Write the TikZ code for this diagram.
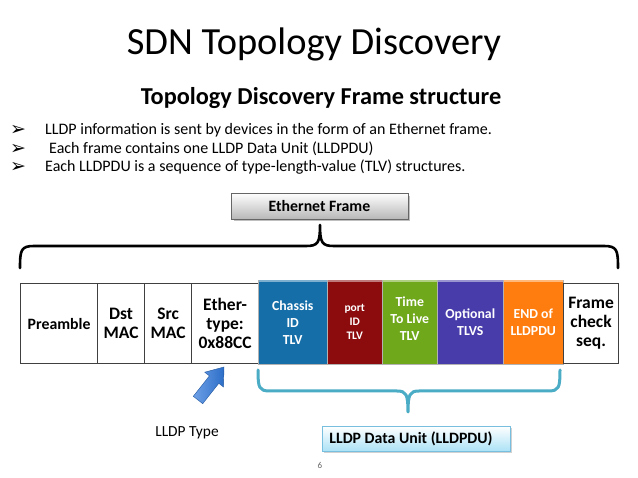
\documentclass[tikz,border=0pt]{standalone}
\usepackage{fontspec}
\setmainfont{Carlito}
\newfontfamily\dejavu{DejaVu Sans}
\definecolor{chassisblue}{RGB}{22,110,168}
\definecolor{portred}{RGB}{140,12,14}
\definecolor{ttlgreen}{RGB}{112,168,28}
\definecolor{optpurple}{RGB}{72,60,170}
\definecolor{endorange}{RGB}{255,125,14}
\definecolor{bracecyan}{RGB}{75,172,198}
\definecolor{pdufill}{RGB}{172,226,246}
\definecolor{pduline}{RGB}{120,190,222}
\definecolor{arrowblue}{RGB}{44,110,200}
\definecolor{arrowlight}{RGB}{110,160,230}
\begin{document}
\begin{tikzpicture}[x=1pt,y=-1pt,
  cell/.style={draw=black!75, line width=1.2pt, fill=white, inner sep=0pt, anchor=north west,
    align=center, minimum height=80pt, font=\bfseries\fontsize{17.5}{19}\selectfont},
  tlv/.style={draw=black!30, line width=0.5pt, inner sep=0pt, anchor=north west, align=center,
    minimum height=84pt, text=white, font=\bfseries\fontsize{13.8}{17}\selectfont},
  bullettext/.style={anchor=base west, inner sep=0pt, font=\fontsize{16}{19}\selectfont},
  bulletmark/.style={anchor=base west, inner sep=0pt, font=\dejavu\fontsize{19}{20}\selectfont},
  bracelineA/.style={line width=2.6pt, line cap=round, line join=round},
]
\useasboundingbox (0,0) rectangle (638,478);
\fill[white] (0,0) rectangle (638,478);

% titles
\node[font=\fontsize{38.4}{44}\selectfont, inner sep=0pt] (title) at (314,44) {SDN Topology Discovery};
\node[font=\bfseries\fontsize{24.3}{28}\selectfont, inner sep=0pt] (sub) at (321,98) {Topology Discovery Frame structure};

% bullets
\node[bulletmark] (m1) at (10,136) {➢};
\node[bulletmark] (m2) at (10,154.5) {➢};
\node[bulletmark] (m3) at (10,173) {➢};
\node[bullettext] (b1) at (45,135) {LLDP information is sent by devices in the form of an Ethernet frame.};
\node[bullettext] (b2) at (49,153.5) {Each frame contains one LLDP Data Unit (LLDPDU)};
\node[bullettext] (b3) at (45,172) {Each LLDPDU is a sequence of type-length-value (TLV) structures.};

% Ethernet Frame label
\fill[black!25] (234,196) rectangle (410,221);
\shade[top color=white, bottom color=black!28, draw=black!60, line width=0.8pt] (231,193) rectangle (408,219);
\node[font=\bfseries\fontsize{15.8}{18}\selectfont, inner sep=0pt] (eth) at (319.5,206.5) {Ethernet Frame};

% big brace
\draw[bracelineA] (20,268) .. controls (20,250) and (21,246) .. (34,246) -- (306,246)
  .. controls (318,246) and (320,243) .. (320,225)
  .. controls (320,243) and (322,246) .. (334,246) -- (604,246)
  .. controls (617,246) and (618,250) .. (618,268);

% frame cells
\node[cell, minimum width=77pt, font=\bfseries\fontsize{15.8}{18}\selectfont] (pre) at (20,283) {Preamble};
\node[cell, minimum width=47pt] (dst) at (97,283) {Dst\\MAC};
\node[cell, minimum width=47pt] (src) at (144,283) {Src\\MAC};
\node[cell, minimum width=67pt] (ety) at (191,283) {Ether-\\type:\\0x88CC};
\node[tlv, fill=chassisblue, minimum width=69pt] (cha) at (258,280) {Chassis\\ID\\TLV};
\node[tlv, fill=portred, minimum width=55pt, font=\bfseries\fontsize{11.5}{14}\selectfont] (port) at (327,280) {port\\ID\\TLV};
\node[tlv, fill=ttlgreen, minimum width=55pt] (ttl) at (382,280) {};
\node[text=white, align=center, inner sep=0pt, font=\bfseries\fontsize{13.8}{17}\selectfont] (ttltext) at ([yshift=4pt]ttl.center) {Time\\To Live\\TLV};
\node[tlv, fill=optpurple, minimum width=66pt] (opt) at (437,280) {Optional\\TLVS};
\node[tlv, fill=endorange, minimum width=60pt] (end) at (503,280) {END of\\LLDPDU};
\node[cell, minimum width=55pt] (fcs) at (563,283) {Frame\\check\\seq.};
% light top edges on coloured cells
\foreach \n/\c in {cha/chassisblue, port/portred, ttl/ttlgreen, opt/optpurple, end/endorange}{
  \draw[\c!55!white, line width=1.6pt] ([yshift=-1pt,xshift=0.5pt]\n.north west) -- ([yshift=-1pt,xshift=-0.5pt]\n.north east);
}

% blue block arrow
\coordinate (arrtip) at (224,367);
\shade[left color=arrowlight, right color=arrowblue, draw=arrowblue!80!black, line width=0.4pt]
  (202.7,403.7) -- (218.8,383.3) -- (223.5,387.0) -- (arrtip) -- (204.7,372.2) -- (209.4,375.9) -- (193.3,396.3) -- cycle;
\node[font=\fontsize{15.4}{18}\selectfont, inner sep=0pt] (ltype) at (187,433) {LLDP Type};

% lower brace
\draw[bracecyan, line width=3pt, line cap=round, line join=round] (258,370) .. controls (258,388) and (259,391) .. (270,391) -- (397,391)
  .. controls (406,391) and (408,394) .. (408,412)
  .. controls (408,394) and (410,391) .. (419,391) -- (548,391)
  .. controls (559,391) and (560,388) .. (560,370);

% LLDPDU label
\fill[black!18] (324,428) rectangle (512,453);
\shade[top color=white, bottom color=pdufill, draw=pduline, line width=0.8pt] (322,426) rectangle (510,451);
\node[font=\bfseries\fontsize{15.8}{18}\selectfont, inner sep=0pt] (pdu) at (411,438.5) {LLDP Data Unit (LLDPDU)};

% page number
\node[font=\fontsize{9}{10}\selectfont, text=black!60, inner sep=0pt] (pg) at (320,465) {6};
\end{tikzpicture}
\end{document}
